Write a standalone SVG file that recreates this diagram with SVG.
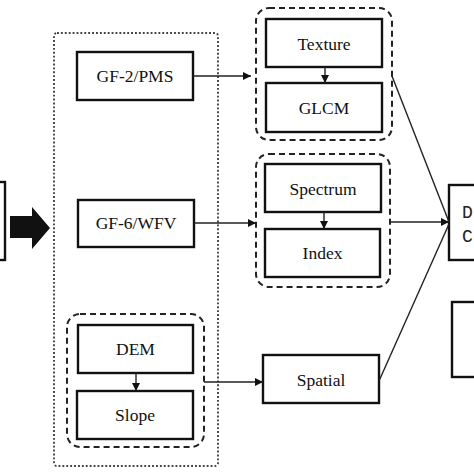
<svg xmlns="http://www.w3.org/2000/svg" width="474" height="474" viewBox="0 0 474 474">
<style>
.box{fill:#fff;stroke:#111;stroke-width:2.4}
.grp{fill:none;stroke:#222;stroke-width:2;stroke-dasharray:6,4}
.dot{fill:none;stroke:#444;stroke-width:1.9;stroke-dasharray:1.9,2}
.lbl{font-family:"Liberation Serif","Times New Roman",serif;font-size:17.5px;fill:#111;text-anchor:middle;dominant-baseline:central}
.mono{font-family:"Liberation Mono","Courier New",monospace;font-size:18px;fill:#222;dominant-baseline:central}
.edge{fill:none;stroke:#222;stroke-width:1.4}
</style>
<defs>
<marker id="ah" viewBox="0 0 10 10" refX="10" refY="5" markerWidth="8" markerHeight="8" markerUnits="userSpaceOnUse" orient="auto">
<path d="M0,0 L10,5 L0,10 z" fill="#111"/>
</marker>
</defs>
<rect width="474" height="474" fill="#fff"/>

<g id="left-node"><rect class="box" x="-10" y="182" width="15" height="78"/></g>
<g id="big-arrow"><polygon points="10,216 32,216 32,207 50,228 32,249 32,238 10,238" fill="#111"/></g>

<g id="input-group"><rect class="dot" x="54" y="33" width="164" height="433" rx="3"/></g>

<g id="gf2"><rect class="box" x="77" y="52" width="116" height="48"/><text class="lbl" x="135" y="76">GF-2/PMS</text></g>
<g id="gf6"><rect class="box" x="78" y="200" width="116" height="47"/><text class="lbl" x="136" y="223">GF-6/WFV</text></g>

<g id="dem-group"><rect class="grp" x="67" y="314" width="137" height="133" rx="13"/></g>
<g id="dem"><rect class="box" x="78" y="325" width="115" height="48"/><text class="lbl" x="135.5" y="349">DEM</text></g>
<g id="slope"><rect class="box" x="77" y="391" width="116" height="48"/><text class="lbl" x="135" y="415">Slope</text></g>

<g id="texture-group"><rect class="grp" x="256" y="8" width="136" height="132" rx="13"/></g>
<g id="texture"><rect class="box" x="266" y="19" width="116" height="48"/><text class="lbl" x="324" y="44">Texture</text></g>
<g id="glcm"><rect class="box" x="266" y="83" width="116" height="49"/><text class="lbl" x="324" y="108">GLCM</text></g>

<g id="spectrum-group"><rect class="grp" x="256" y="154" width="134" height="133" rx="13"/></g>
<g id="spectrum"><rect class="box" x="265" y="164" width="116" height="48"/><text class="lbl" x="323" y="189">Spectrum</text></g>
<g id="index"><rect class="box" x="265" y="229" width="115" height="48"/><text class="lbl" x="322.5" y="253">Index</text></g>

<g id="spatial"><rect class="box" x="263" y="355" width="116" height="48"/><text class="lbl" x="321" y="380">Spatial</text></g>

<g id="dc"><rect class="box" x="449" y="185" width="40" height="75"/><text class="mono" x="462" y="213">D</text><text class="mono" x="462" y="237">C</text></g>
<g id="right-bottom"><rect class="box" x="452" y="302" width="40" height="75"/></g>

<g id="connectors">
<line class="edge" x1="193" y1="76" x2="251" y2="76" marker-end="url(#ah)"/>
<line class="edge" x1="194" y1="223" x2="256" y2="223" marker-end="url(#ah)"/>
<line class="edge" x1="204" y1="382" x2="263" y2="382" marker-end="url(#ah)"/>
<line class="edge" x1="325" y1="67" x2="325" y2="83" marker-end="url(#ah)"/>
<line class="edge" x1="324" y1="212" x2="324" y2="229" marker-end="url(#ah)"/>
<line class="edge" x1="136" y1="373" x2="136" y2="391" marker-end="url(#ah)"/>
<line class="edge" x1="390" y1="222" x2="449" y2="222" marker-end="url(#ah)"/>
<line class="edge" x1="392" y1="76" x2="449" y2="222"/>
<line class="edge" x1="379" y1="381" x2="449" y2="224"/>
</g>
</svg>
